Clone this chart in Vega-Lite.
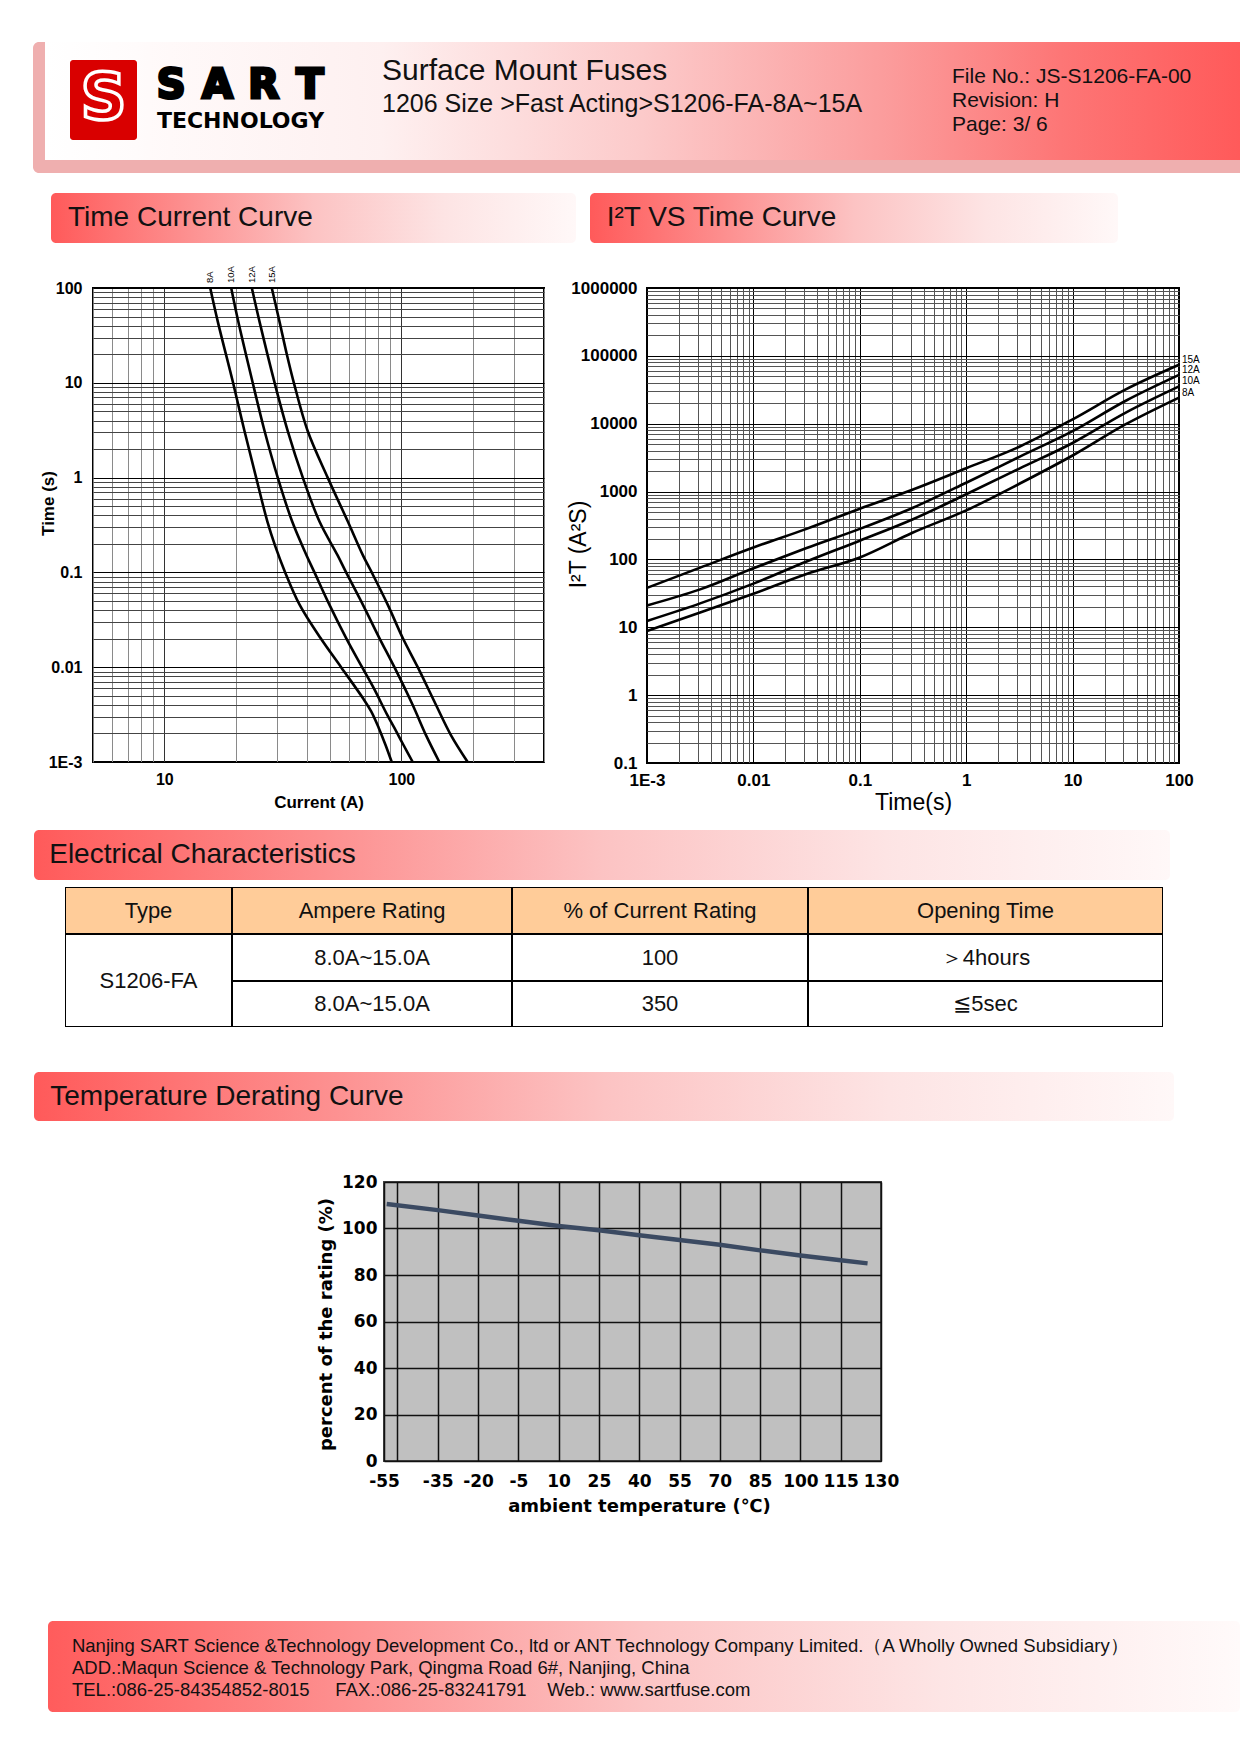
{
  "$schema": "https://vega.github.io/schema/vega-lite/v6.json",
  "padding": 0,
  "background": "#ffffff",
  "spacing": 0,
  "config": {"view": {"stroke": null}, "concat": {"spacing": 0}, "font": "Liberation Sans"},
  "datasets": {
    "one": [{"k": 1}],
    "titleLines": [
      {"block": "title", "line": 1, "text": "Surface Mount Fuses"},
      {"block": "title", "line": 2, "text": "1206 Size >Fast Acting>S1206-FA-8A~15A"}
    ],
    "infoLines": [
      {"block": "info", "line": 1, "text": "File No.: JS-S1206-FA-00"},
      {"block": "info", "line": 2, "text": "Revision: H"},
      {"block": "info", "line": 3, "text": "Page: 3/ 6"}
    ],
    "logoLetters": [
      {"line": "SART", "letter": "S"}, {"line": "SART", "letter": "A"},
      {"line": "SART", "letter": "R"}, {"line": "SART", "letter": "T"}
    ],
    "logoSub": [{"line": "TECHNOLOGY", "text": "TECHNOLOGY"}],
    "footerLines": [
      {"block": "f", "line": 1, "text": "Nanjing SART Science &Technology Development Co., ltd or ANT Technology Company Limited.（A Wholly Owned Subsidiary）"},
      {"block": "f", "line": 2, "text": "ADD.:Maqun Science & Technology Park, Qingma Road 6#, Nanjing, China"},
      {"block": "f", "line": 3, "text": "TEL.:086-25-84354852-8015\u00a0\u00a0\u00a0\u00a0\u00a0FAX.:086-25-83241791\u00a0\u00a0\u00a0\u00a0Web.: www.sartfuse.com"}
    ],
    "tc": [
      {"rating": "8A", "current": 15.62, "time": 100}, {"rating": "8A", "current": 16.8, "time": 44.5},
      {"rating": "8A", "current": 19.5, "time": 10}, {"rating": "8A", "current": 21.8, "time": 3.08},
      {"rating": "8A", "current": 24.4, "time": 1}, {"rating": "8A", "current": 27.2, "time": 0.346},
      {"rating": "8A", "current": 29.4, "time": 0.188}, {"rating": "8A", "current": 32.35, "time": 0.1},
      {"rating": "8A", "current": 37.2, "time": 0.0457}, {"rating": "8A", "current": 45.6, "time": 0.0203},
      {"rating": "8A", "current": 55.7, "time": 0.01}, {"rating": "8A", "current": 68.8, "time": 0.00473},
      {"rating": "8A", "current": 74.6, "time": 0.00342}, {"rating": "8A", "current": 80.3, "time": 0.00229},
      {"rating": "8A", "current": 85.7, "time": 0.00152}, {"rating": "8A", "current": 91.1, "time": 0.001},
      {"rating": "10A", "current": 19.15, "time": 100}, {"rating": "10A", "current": 20.5, "time": 44.5},
      {"rating": "10A", "current": 23.6, "time": 10}, {"rating": "10A", "current": 26.5, "time": 3.08},
      {"rating": "10A", "current": 30.1, "time": 1}, {"rating": "10A", "current": 34.6, "time": 0.346},
      {"rating": "10A", "current": 39.7, "time": 0.1538}, {"rating": "10A", "current": 43.0, "time": 0.1},
      {"rating": "10A", "current": 49.7, "time": 0.0457}, {"rating": "10A", "current": 58.5, "time": 0.0203},
      {"rating": "10A", "current": 68.3, "time": 0.01}, {"rating": "10A", "current": 76.5, "time": 0.006},
      {"rating": "10A", "current": 87.1, "time": 0.00316}, {"rating": "10A", "current": 93.5, "time": 0.00229},
      {"rating": "10A", "current": 102.0, "time": 0.00152}, {"rating": "10A", "current": 111.7, "time": 0.001},
      {"rating": "12A", "current": 23.4, "time": 100}, {"rating": "12A", "current": 25.2, "time": 44.5},
      {"rating": "12A", "current": 29.2, "time": 10}, {"rating": "12A", "current": 33.2, "time": 3.08},
      {"rating": "12A", "current": 38.4, "time": 1}, {"rating": "12A", "current": 45.1, "time": 0.346},
      {"rating": "12A", "current": 53.8, "time": 0.152}, {"rating": "12A", "current": 58.5, "time": 0.1},
      {"rating": "12A", "current": 68.8, "time": 0.0457}, {"rating": "12A", "current": 80.8, "time": 0.0203},
      {"rating": "12A", "current": 93.5, "time": 0.01}, {"rating": "12A", "current": 111.7, "time": 0.00399},
      {"rating": "12A", "current": 127.2, "time": 0.00191}, {"rating": "12A", "current": 144.7, "time": 0.001},
      {"rating": "15A", "current": 28.4, "time": 100}, {"rating": "15A", "current": 30.6, "time": 44.5},
      {"rating": "15A", "current": 32.9, "time": 19.8}, {"rating": "15A", "current": 35.2, "time": 10},
      {"rating": "15A", "current": 40.3, "time": 3.08}, {"rating": "15A", "current": 48.9, "time": 1},
      {"rating": "15A", "current": 59.4, "time": 0.346}, {"rating": "15A", "current": 68.8, "time": 0.152},
      {"rating": "15A", "current": 75.0, "time": 0.1}, {"rating": "15A", "current": 87.6, "time": 0.0457},
      {"rating": "15A", "current": 101.4, "time": 0.0203}, {"rating": "15A", "current": 117.3, "time": 0.01},
      {"rating": "15A", "current": 140.1, "time": 0.00399}, {"rating": "15A", "current": 162.1, "time": 0.00191},
      {"rating": "15A", "current": 190.5, "time": 0.001}
    ],
    "i2t": [
      {"rating": "15A", "time": 0.001, "i2t": 38.1}, {"rating": "15A", "time": 0.00316, "i2t": 75.7},
      {"rating": "15A", "time": 0.01, "i2t": 150}, {"rating": "15A", "time": 0.0316, "i2t": 282},
      {"rating": "15A", "time": 0.1, "i2t": 560}, {"rating": "15A", "time": 0.316, "i2t": 1074},
      {"rating": "15A", "time": 1, "i2t": 2208}, {"rating": "15A", "time": 3.16, "i2t": 4581},
      {"rating": "15A", "time": 10, "i2t": 11590}, {"rating": "15A", "time": 31.6, "i2t": 32000},
      {"rating": "15A", "time": 100, "i2t": 73800},
      {"rating": "12A", "time": 0.001, "i2t": 21.0}, {"rating": "12A", "time": 0.00316, "i2t": 36.2},
      {"rating": "12A", "time": 0.01, "i2t": 74.1}, {"rating": "12A", "time": 0.0316, "i2t": 147},
      {"rating": "12A", "time": 0.1, "i2t": 282}, {"rating": "12A", "time": 0.316, "i2t": 578},
      {"rating": "12A", "time": 1, "i2t": 1349}, {"rating": "12A", "time": 3.16, "i2t": 3250},
      {"rating": "12A", "time": 10, "i2t": 7760}, {"rating": "12A", "time": 31.6, "i2t": 21800},
      {"rating": "12A", "time": 100, "i2t": 52400},
      {"rating": "10A", "time": 0.001, "i2t": 12.4}, {"rating": "10A", "time": 0.00316, "i2t": 22.5},
      {"rating": "10A", "time": 0.01, "i2t": 44.0}, {"rating": "10A", "time": 0.0316, "i2t": 93.1},
      {"rating": "10A", "time": 0.1, "i2t": 189}, {"rating": "10A", "time": 0.316, "i2t": 391},
      {"rating": "10A", "time": 1, "i2t": 914}, {"rating": "10A", "time": 3.16, "i2t": 2180},
      {"rating": "10A", "time": 10, "i2t": 5200}, {"rating": "10A", "time": 31.6, "i2t": 14600},
      {"rating": "10A", "time": 100, "i2t": 35500},
      {"rating": "8A", "time": 0.001, "i2t": 8.8}, {"rating": "8A", "time": 0.00316, "i2t": 16.5},
      {"rating": "8A", "time": 0.01, "i2t": 31.2}, {"rating": "8A", "time": 0.0316, "i2t": 61.0},
      {"rating": "8A", "time": 0.1, "i2t": 107}, {"rating": "8A", "time": 0.316, "i2t": 249},
      {"rating": "8A", "time": 1, "i2t": 528}, {"rating": "8A", "time": 3.16, "i2t": 1303},
      {"rating": "8A", "time": 10, "i2t": 3400}, {"rating": "8A", "time": 31.6, "i2t": 9840},
      {"rating": "8A", "time": 100, "i2t": 24300}
    ],
    "derate": [
      {"temp": -54, "pct": 110.5}, {"temp": -35, "pct": 107.9}, {"temp": -20, "pct": 105.6},
      {"temp": -5, "pct": 103.3}, {"temp": 10, "pct": 101.1}, {"temp": 25, "pct": 99.2},
      {"temp": 40, "pct": 97.1}, {"temp": 55, "pct": 95.1}, {"temp": 70, "pct": 93.0},
      {"temp": 85, "pct": 90.6}, {"temp": 100, "pct": 88.4}, {"temp": 115, "pct": 86.3},
      {"temp": 125, "pct": 85.0}
    ]
  },
  "vconcat": [
    {"width": 1240, "height": 42, "data": {"name": "one"}, "mark": {"type": "rect", "opacity": 0}, "encoding": {}},
    {"spacing": 0, "hconcat": [
      {"width": 33, "height": 131, "data": {"name": "one"}, "mark": {"type": "rect", "opacity": 0}, "encoding": {}},
      {"width": 12, "height": 131, "data": {"name": "one"}, "mark": {"type": "rect", "fill": "#efafaf", "cornerRadiusTopLeft": 10, "cornerRadiusBottomLeft": 10}, "encoding": {}},
      {"spacing": 0, "vconcat": [
        {"spacing": 0, "hconcat": [
          {"width": 25, "height": 118, "data": {"name": "one"}, "mark": {"type": "rect", "fill": {"gradient": "linear", "x1": 0, "y1": 0, "x2": 1, "y2": 0, "stops": [{"offset": 0, "color": "#ffffff"}, {"offset": 1, "color": "#fffefe"}]}}, "encoding": {}},
          {"spacing": 0, "vconcat": [
            {"width": 67, "height": 18, "data": {"name": "one"}, "mark": {"type": "rect", "fill": {"gradient": "linear", "x1": 0, "y1": 0, "x2": 1, "y2": 0, "stops": [{"offset": 0, "color": "#fffefe"}, {"offset": 1, "color": "#fffbfb"}]}}, "encoding": {}},
            {"width": 67, "height": 80, "data": {"values": [{"glyph": "S"}]}, "layer": [
              {"mark": {"type": "rect", "fill": "#d90000", "cornerRadius": 3}, "encoding": {}},
              {"mark": {"type": "text", "font": "DejaVu Sans", "fontWeight": "bold", "fontSize": 64, "fill": "transparent", "stroke": "#ffffff", "strokeWidth": 3.5, "baseline": "middle"}, "encoding": {"text": {"field": "glyph"}}}
            ]},
            {"width": 67, "height": 20, "data": {"name": "one"}, "mark": {"type": "rect", "fill": {"gradient": "linear", "x1": 0, "y1": 0, "x2": 1, "y2": 0, "stops": [{"offset": 0, "color": "#fffefe"}, {"offset": 1, "color": "#fffbfb"}]}}, "encoding": {}}
          ]},
          {"width": 11, "height": 118, "data": {"name": "one"}, "mark": {"type": "rect", "fill": {"gradient": "linear", "x1": 0, "y1": 0, "x2": 1, "y2": 0, "stops": [{"offset": 0, "color": "#fffbfb"}, {"offset": 1, "color": "#fffafa"}]}}, "encoding": {}},
          {"width": 185, "height": 118, "layer": [
            {"data": {"name": "one"}, "mark": {"type": "rect", "fill": {"gradient": "linear", "x1": 0, "y1": 0, "x2": 1, "y2": 0, "stops": [{"offset": 0, "color": "#fffafa"}, {"offset": 1, "color": "#fef2f2"}]}}, "encoding": {}},
            {"data": {"name": "logoLetters"}, "mark": {"type": "text", "font": "DejaVu Sans", "fontWeight": "bold", "fontSize": 40, "color": "#000000", "stroke": "#000000", "strokeWidth": 3, "baseline": "middle"},
             "encoding": {
               "x": {"field": "letter", "type": "nominal", "scale": {"type": "band", "domain": ["S", "A", "R", "T"], "paddingInner": 0, "paddingOuter": 0}, "axis": null},
               "y": {"field": "line", "type": "nominal", "scale": {"type": "band", "domain": ["SART", "TECHNOLOGY"], "paddingInner": 0, "paddingOuter": 0.648, "align": 0.554}, "axis": null},
               "text": {"field": "letter"}}},
            {"data": {"name": "logoSub"}, "mark": {"type": "text", "font": "DejaVu Sans", "fontWeight": "bold", "fontSize": 22, "color": "#000000", "baseline": "middle"},
             "encoding": {
               "y": {"field": "line", "type": "nominal", "scale": {"type": "band", "domain": ["SART", "TECHNOLOGY"], "paddingInner": 0, "paddingOuter": 0.648, "align": 0.554}, "axis": null},
               "text": {"field": "text"}}}
          ]},
          {"width": 49, "height": 118, "data": {"name": "one"}, "mark": {"type": "rect", "fill": {"gradient": "linear", "x1": 0, "y1": 0, "x2": 1, "y2": 0, "stops": [{"offset": 0, "color": "#fef2f2"}, {"offset": 1, "color": "#fef0f0"}]}}, "encoding": {}},
          {"width": 570, "height": 118, "layer": [
            {"data": {"name": "one"}, "mark": {"type": "rect", "fill": {"gradient": "linear", "x1": 0, "y1": 0, "x2": 1, "y2": 0, "stops": [{"offset": 0, "color": "#fef0f0"}, {"offset": 0.457, "color": "#fccaca"}, {"offset": 0.876, "color": "#fb9d9d"}, {"offset": 1, "color": "#fc8e8e"}]}}, "encoding": {}},
            {"data": {"name": "titleLines"}, "transform": [{"filter": "datum.line == 1"}],
             "mark": {"type": "text", "align": "left", "baseline": "alphabetic", "fontSize": 30, "color": "#111111"},
             "encoding": {
               "x": {"field": "block", "type": "nominal", "scale": {"type": "band", "paddingInner": 0, "paddingOuter": 0}, "axis": null, "bandPosition": 0},
               "y": {"field": "line", "type": "ordinal", "scale": {"type": "band", "domain": [1, 2], "paddingInner": 0, "paddingOuter": 0.861, "align": 0.406}, "axis": null},
               "text": {"field": "text"}}},
            {"data": {"name": "titleLines"}, "transform": [{"filter": "datum.line == 2"}],
             "mark": {"type": "text", "align": "left", "baseline": "alphabetic", "fontSize": 25, "color": "#111111"},
             "encoding": {
               "x": {"field": "block", "type": "nominal", "scale": {"type": "band", "paddingInner": 0, "paddingOuter": 0}, "axis": null, "bandPosition": 0},
               "y": {"field": "line", "type": "ordinal", "scale": {"type": "band", "domain": [1, 2], "paddingInner": 0, "paddingOuter": 0.861, "align": 0.406}, "axis": null},
               "text": {"field": "text"}}}
          ]},
          {"width": 288, "height": 118, "layer": [
            {"data": {"name": "one"}, "mark": {"type": "rect", "fill": {"gradient": "linear", "x1": 0, "y1": 0, "x2": 1, "y2": 0, "stops": [{"offset": 0, "color": "#fc8e8e"}, {"offset": 0.378, "color": "#fd7676"}, {"offset": 1, "color": "#ff5a5a"}]}}, "encoding": {}},
            {"data": {"name": "infoLines"},
             "mark": {"type": "text", "align": "left", "baseline": "alphabetic", "fontSize": 21, "color": "#111111"},
             "encoding": {
               "x": {"field": "block", "type": "nominal", "scale": {"type": "band", "paddingInner": 0, "paddingOuter": 0}, "axis": null, "bandPosition": 0},
               "y": {"field": "line", "type": "ordinal", "scale": {"type": "band", "domain": [1, 2, 3], "paddingInner": 0, "paddingOuter": 0.958, "align": 0.641}, "axis": null},
               "text": {"field": "text"}}}
          ]}
        ]},
        {"width": 1195, "height": 13, "data": {"name": "one"}, "mark": {"type": "rect", "fill": "#efafaf"}, "encoding": {}}
      ]}
    ]},
    {"width": 1240, "height": 20, "data": {"name": "one"}, "mark": {"type": "rect", "opacity": 0}, "encoding": {}},
    {"spacing": 0, "hconcat": [
      {"width": 51, "height": 50, "data": {"name": "one"}, "mark": {"type": "rect", "opacity": 0}, "encoding": {}},
      {"width": 525, "height": 50, "data": {"values": [{"block": "s", "text": "Time Current Curve"}]}, "layer": [
        {"mark": {"type": "rect", "cornerRadius": 5, "fill": {"gradient": "linear", "x1": 0, "y1": 0, "x2": 1, "y2": 0, "stops": [{"offset": 0, "color": "#ff5a5a"}, {"offset": 0.25, "color": "#fd8e8e"}, {"offset": 0.5, "color": "#fcc3c3"}, {"offset": 0.75, "color": "#fde4e4"}, {"offset": 1, "color": "#fff8f8"}]}}, "encoding": {}},
        {"mark": {"type": "text", "align": "left", "baseline": "middle", "fontSize": 28, "color": "#111111"},
         "encoding": {"x": {"field": "block", "type": "nominal", "scale": {"type": "band", "paddingInner": 0, "paddingOuter": 0}, "axis": null, "bandPosition": 0.0324}, "text": {"field": "text"}}}
      ]},
      {"width": 14, "height": 50, "data": {"name": "one"}, "mark": {"type": "rect", "opacity": 0}, "encoding": {}},
      {"width": 528, "height": 50, "data": {"values": [{"block": "s", "text": "I²T VS Time Curve"}]}, "layer": [
        {"mark": {"type": "rect", "cornerRadius": 5, "fill": {"gradient": "linear", "x1": 0, "y1": 0, "x2": 1, "y2": 0, "stops": [{"offset": 0, "color": "#ff5a5a"}, {"offset": 0.25, "color": "#fd8e8e"}, {"offset": 0.5, "color": "#fcc3c3"}, {"offset": 0.75, "color": "#fde4e4"}, {"offset": 1, "color": "#fff8f8"}]}}, "encoding": {}},
        {"mark": {"type": "text", "align": "left", "baseline": "middle", "fontSize": 28, "color": "#111111"},
         "encoding": {"x": {"field": "block", "type": "nominal", "scale": {"type": "band", "paddingInner": 0, "paddingOuter": 0}, "axis": null, "bandPosition": 0.0316}, "text": {"field": "text"}}}
      ]}
    ]},
    {"width": 1240, "height": 22, "data": {"name": "one"}, "mark": {"type": "rect", "opacity": 0}, "encoding": {}},
    {"spacing": 0, "hconcat": [
      {"width": 38, "height": 542, "data": {"name": "one"}, "mark": {"type": "rect", "opacity": 0}, "encoding": {}},
      {"width": 451, "height": 474, "view": {"stroke": "#000000", "strokeWidth": 2}, "data": {"name": "tc"}, "layer": [
        {"mark": {"type": "line", "color": "#000000", "strokeWidth": 2.6, "interpolate": "catmull-rom"},
         "encoding": {
           "x": {"field": "current", "type": "quantitative", "scale": {"type": "log", "domain": [5, 400], "nice": false},
             "axis": {"values": [5, 6, 7, 8, 9, 10, 20, 30, 40, 50, 60, 70, 80, 90, 100, 200, 300, 400],
               "labelExpr": "datum.value == 10 ? '10' : datum.value == 100 ? '100' : ''",
               "grid": true, "gridColor": {"condition": {"test": "datum.value == 10 || datum.value == 100", "value": "#333333"}, "value": "#8a8a8a"}, "gridWidth": 1,
               "ticks": false, "domain": false, "labelFont": "Liberation Sans", "labelFontSize": 16, "labelFontWeight": "bold", "labelColor": "#000000",
               "labelPadding": 9, "labelOverlap": false, "labelFlush": false,
               "title": "Current (A)", "titleFont": "Liberation Sans", "titleFontSize": 17, "titleFontWeight": "bold", "titleColor": "#000000", "titleY": 40, "titleBaseline": "middle"}},
           "y": {"field": "time", "type": "quantitative", "scale": {"type": "log", "domain": [0.001, 100], "nice": false},
             "axis": {"values": [0.001, 0.002, 0.003, 0.004, 0.005, 0.006, 0.007, 0.008, 0.009, 0.01, 0.02, 0.03, 0.04, 0.05, 0.06, 0.07, 0.08, 0.09, 0.1, 0.2, 0.3, 0.4, 0.5, 0.6, 0.7, 0.8, 0.9, 1, 2, 3, 4, 5, 6, 7, 8, 9, 10, 20, 30, 40, 50, 60, 70, 80, 90, 100],
               "labelExpr": "datum.value == 0.001 ? '1E-3' : datum.value == 0.01 ? '0.01' : datum.value == 0.1 ? '0.1' : datum.value == 1 ? '1' : datum.value == 10 ? '10' : datum.value == 100 ? '100' : ''",
               "grid": true, "gridColor": {"condition": {"test": "indexof([0.001, 0.01, 0.1, 1, 10, 100], datum.value) >= 0", "value": "#000000"}, "value": "#444444"}, "gridWidth": 1,
               "ticks": false, "domain": false, "labelFont": "Liberation Sans", "labelFontSize": 16, "labelFontWeight": "bold", "labelColor": "#000000",
               "labelPadding": 11, "labelOverlap": false, "labelFlush": false,
               "title": "Time (s)", "titleFont": "Liberation Sans", "titleFontSize": 17, "titleFontWeight": "bold", "titleColor": "#000000",
               "titleX": -45, "titleY": 215, "titleBaseline": "middle", "titleAlign": "center", "titleAngle": 270}},
           "detail": {"field": "rating", "type": "nominal"}}},
        {"transform": [{"filter": "datum.time == 100"}],
         "mark": {"type": "text", "angle": 270, "align": "left", "baseline": "middle", "dx": 5, "fontSize": 9.5, "color": "#000000"},
         "encoding": {"x": {"field": "current", "type": "quantitative"}, "y": {"field": "time", "type": "quantitative"}, "text": {"field": "rating", "type": "nominal"}}}
      ]},
      {"width": 21, "height": 10, "data": {"name": "one"}, "mark": {"type": "rect", "opacity": 0}, "encoding": {}},
      {"width": 532, "height": 475, "view": {"stroke": "#000000", "strokeWidth": 2}, "data": {"name": "i2t"}, "layer": [
        {"mark": {"type": "line", "color": "#000000", "strokeWidth": 2.6, "interpolate": "catmull-rom"},
         "encoding": {
           "x": {"field": "time", "type": "quantitative", "scale": {"type": "log", "domain": [0.001, 100], "nice": false},
             "axis": {"values": [0.001, 0.002, 0.003, 0.004, 0.005, 0.006, 0.007, 0.008, 0.009, 0.01, 0.02, 0.03, 0.04, 0.05, 0.06, 0.07, 0.08, 0.09, 0.1, 0.2, 0.3, 0.4, 0.5, 0.6, 0.7, 0.8, 0.9, 1, 2, 3, 4, 5, 6, 7, 8, 9, 10, 20, 30, 40, 50, 60, 70, 80, 90, 100],
               "labelExpr": "datum.value == 0.001 ? '1E-3' : datum.value == 0.01 ? '0.01' : datum.value == 0.1 ? '0.1' : datum.value == 1 ? '1' : datum.value == 10 ? '10' : datum.value == 100 ? '100' : ''",
               "grid": true, "gridColor": {"condition": {"test": "indexof([0.001, 0.01, 0.1, 1, 10, 100], datum.value) >= 0", "value": "#000000"}, "value": "#555555"}, "gridWidth": 1,
               "ticks": false, "domain": false, "labelFont": "Liberation Sans", "labelFontSize": 17, "labelFontWeight": "bold", "labelColor": "#000000",
               "labelPadding": 9, "labelOverlap": false, "labelFlush": false,
               "title": "Time(s)", "titleFont": "Liberation Sans", "titleFontSize": 23, "titleFontWeight": "normal", "titleColor": "#000000", "titleY": 39, "titleBaseline": "middle"}},
           "y": {"field": "i2t", "type": "quantitative", "scale": {"type": "log", "domain": [0.1, 1000000], "nice": false},
             "axis": {"values": [0.1, 0.2, 0.3, 0.4, 0.5, 0.6, 0.7, 0.8, 0.9, 1, 2, 3, 4, 5, 6, 7, 8, 9, 10, 20, 30, 40, 50, 60, 70, 80, 90, 100, 200, 300, 400, 500, 600, 700, 800, 900, 1000, 2000, 3000, 4000, 5000, 6000, 7000, 8000, 9000, 10000, 20000, 30000, 40000, 50000, 60000, 70000, 80000, 90000, 100000, 200000, 300000, 400000, 500000, 600000, 700000, 800000, 900000, 1000000],
               "labelExpr": "datum.value == 0.1 ? '0.1' : datum.value == 1 ? '1' : datum.value == 10 ? '10' : datum.value == 100 ? '100' : datum.value == 1000 ? '1000' : datum.value == 10000 ? '10000' : datum.value == 100000 ? '100000' : datum.value == 1000000 ? '1000000' : ''",
               "grid": true, "gridColor": {"condition": {"test": "indexof([0.1, 1, 10, 100, 1000, 10000, 100000, 1000000], datum.value) >= 0", "value": "#000000"}, "value": "#555555"}, "gridWidth": 1,
               "ticks": false, "domain": false, "labelFont": "Liberation Sans", "labelFontSize": 17, "labelFontWeight": "bold", "labelColor": "#000000",
               "labelPadding": 10, "labelOverlap": false, "labelFlush": false,
               "title": "I²T (A²S)", "titleFont": "Liberation Sans", "titleFontSize": 23, "titleFontWeight": "normal", "titleColor": "#000000",
               "titleX": -69, "titleY": 256, "titleBaseline": "middle", "titleAlign": "center", "titleAngle": 270}},
           "detail": {"field": "rating", "type": "nominal"}}},
        {"transform": [{"filter": "datum.time == 100"}],
         "mark": {"type": "text", "align": "left", "baseline": "bottom", "dx": 3, "fontSize": 10, "color": "#000000"},
         "encoding": {"x": {"field": "time", "type": "quantitative"}, "y": {"field": "i2t", "type": "quantitative"}, "text": {"field": "rating", "type": "nominal"}}}
      ]}
    ]},
    {"spacing": 0, "hconcat": [
      {"width": 34, "height": 50, "data": {"name": "one"}, "mark": {"type": "rect", "opacity": 0}, "encoding": {}},
      {"width": 1136, "height": 50, "data": {"values": [{"block": "s", "text": "Electrical Characteristics"}]}, "layer": [
        {"mark": {"type": "rect", "cornerRadius": 5, "fill": {"gradient": "linear", "x1": 0, "y1": 0, "x2": 1, "y2": 0, "stops": [{"offset": 0, "color": "#ff5a5a"}, {"offset": 0.25, "color": "#fd8e8e"}, {"offset": 0.5, "color": "#fcc3c3"}, {"offset": 0.75, "color": "#fde4e4"}, {"offset": 1, "color": "#fff8f8"}]}}, "encoding": {}},
        {"mark": {"type": "text", "align": "left", "baseline": "middle", "fontSize": 28, "color": "#111111"},
         "encoding": {"x": {"field": "block", "type": "nominal", "scale": {"type": "band", "paddingInner": 0, "paddingOuter": 0}, "axis": null, "bandPosition": 0.0134}, "text": {"field": "text"}}}
      ]}
    ]},
    {"width": 1240, "height": 7, "data": {"name": "one"}, "mark": {"type": "rect", "opacity": 0}, "encoding": {}},
    {"spacing": 0, "hconcat": [
      {"width": 65, "height": 140, "data": {"name": "one"}, "mark": {"type": "rect", "opacity": 0}, "encoding": {}},
      {"spacing": 0, "vconcat": [
        {"width": 167, "height": 47, "data": {"values": [{"text": "Type"}]}, "layer": [
          {"mark": {"type": "rect", "fill": "#ffcc99", "stroke": "#000000", "strokeWidth": 2, "clip": true}, "encoding": {}},
          {"mark": {"type": "text", "fontSize": 22, "color": "#111111"}, "encoding": {"text": {"field": "text"}}}]},
        {"width": 167, "height": 93, "data": {"values": [{"text": "S1206-FA"}]}, "layer": [
          {"mark": {"type": "rect", "fill": "#ffffff", "stroke": "#000000", "strokeWidth": 2, "clip": true}, "encoding": {}},
          {"mark": {"type": "text", "fontSize": 22, "color": "#111111"}, "encoding": {"text": {"field": "text"}}}]}
      ]},
      {"spacing": 0, "vconcat": [
        {"width": 280, "height": 47, "data": {"values": [{"text": "Ampere Rating"}]}, "layer": [
          {"mark": {"type": "rect", "fill": "#ffcc99", "stroke": "#000000", "strokeWidth": 2, "clip": true}, "encoding": {}},
          {"mark": {"type": "text", "fontSize": 22, "color": "#111111"}, "encoding": {"text": {"field": "text"}}}]},
        {"width": 280, "height": 47, "data": {"values": [{"text": "8.0A~15.0A"}]}, "layer": [
          {"mark": {"type": "rect", "fill": "#ffffff", "stroke": "#000000", "strokeWidth": 2, "clip": true}, "encoding": {}},
          {"mark": {"type": "text", "fontSize": 22, "color": "#111111"}, "encoding": {"text": {"field": "text"}}}]},
        {"width": 280, "height": 46, "data": {"values": [{"text": "8.0A~15.0A"}]}, "layer": [
          {"mark": {"type": "rect", "fill": "#ffffff", "stroke": "#000000", "strokeWidth": 2, "clip": true}, "encoding": {}},
          {"mark": {"type": "text", "fontSize": 22, "color": "#111111"}, "encoding": {"text": {"field": "text"}}}]}
      ]},
      {"spacing": 0, "vconcat": [
        {"width": 296, "height": 47, "data": {"values": [{"text": "% of Current Rating"}]}, "layer": [
          {"mark": {"type": "rect", "fill": "#ffcc99", "stroke": "#000000", "strokeWidth": 2, "clip": true}, "encoding": {}},
          {"mark": {"type": "text", "fontSize": 22, "color": "#111111"}, "encoding": {"text": {"field": "text"}}}]},
        {"width": 296, "height": 47, "data": {"values": [{"text": "100"}]}, "layer": [
          {"mark": {"type": "rect", "fill": "#ffffff", "stroke": "#000000", "strokeWidth": 2, "clip": true}, "encoding": {}},
          {"mark": {"type": "text", "fontSize": 22, "color": "#111111"}, "encoding": {"text": {"field": "text"}}}]},
        {"width": 296, "height": 46, "data": {"values": [{"text": "350"}]}, "layer": [
          {"mark": {"type": "rect", "fill": "#ffffff", "stroke": "#000000", "strokeWidth": 2, "clip": true}, "encoding": {}},
          {"mark": {"type": "text", "fontSize": 22, "color": "#111111"}, "encoding": {"text": {"field": "text"}}}]}
      ]},
      {"spacing": 0, "vconcat": [
        {"width": 355, "height": 47, "data": {"values": [{"text": "Opening Time"}]}, "layer": [
          {"mark": {"type": "rect", "fill": "#ffcc99", "stroke": "#000000", "strokeWidth": 2, "clip": true}, "encoding": {}},
          {"mark": {"type": "text", "fontSize": 22, "color": "#111111"}, "encoding": {"text": {"field": "text"}}}]},
        {"width": 355, "height": 47, "data": {"values": [{"text": "＞4hours"}]}, "layer": [
          {"mark": {"type": "rect", "fill": "#ffffff", "stroke": "#000000", "strokeWidth": 2, "clip": true}, "encoding": {}},
          {"mark": {"type": "text", "fontSize": 22, "color": "#111111"}, "encoding": {"text": {"field": "text"}}}]},
        {"width": 355, "height": 46, "data": {"values": [{"text": "≦5sec"}]}, "layer": [
          {"mark": {"type": "rect", "fill": "#ffffff", "stroke": "#000000", "strokeWidth": 2, "clip": true}, "encoding": {}},
          {"mark": {"type": "text", "fontSize": 22, "color": "#111111"}, "encoding": {"text": {"field": "text"}}}]}
      ]}
    ]},
    {"width": 1240, "height": 45, "data": {"name": "one"}, "mark": {"type": "rect", "opacity": 0}, "encoding": {}},
    {"spacing": 0, "hconcat": [
      {"width": 34, "height": 49, "data": {"name": "one"}, "mark": {"type": "rect", "opacity": 0}, "encoding": {}},
      {"width": 1140, "height": 49, "data": {"values": [{"block": "s", "text": "Temperature Derating Curve"}]}, "layer": [
        {"mark": {"type": "rect", "cornerRadius": 5, "fill": {"gradient": "linear", "x1": 0, "y1": 0, "x2": 1, "y2": 0, "stops": [{"offset": 0, "color": "#ff5a5a"}, {"offset": 0.25, "color": "#fd8e8e"}, {"offset": 0.5, "color": "#fcc3c3"}, {"offset": 0.75, "color": "#fde4e4"}, {"offset": 1, "color": "#fff8f8"}]}}, "encoding": {}},
        {"mark": {"type": "text", "align": "left", "baseline": "middle", "fontSize": 28, "color": "#111111"},
         "encoding": {"x": {"field": "block", "type": "nominal", "scale": {"type": "band", "paddingInner": 0, "paddingOuter": 0}, "axis": null, "bandPosition": 0.0143}, "text": {"field": "text"}}}
      ]}
    ]},
    {"width": 1240, "height": 51, "data": {"name": "one"}, "mark": {"type": "rect", "opacity": 0}, "encoding": {}},
    {"spacing": 0, "hconcat": [
      {"width": 316, "height": 439, "data": {"name": "one"}, "mark": {"type": "rect", "opacity": 0}, "encoding": {}},
      {"width": 497, "height": 279, "view": {"fill": "#c0c0c0", "stroke": "#444444", "strokeWidth": 2}, "data": {"name": "derate"},
       "mark": {"type": "line", "color": "#3b4a62", "strokeWidth": 4.5},
       "encoding": {
         "x": {"field": "temp", "type": "quantitative", "scale": {"domain": [-55, 130], "nice": false, "zero": false},
           "axis": {"values": [-55, -50, -35, -20, -5, 10, 25, 40, 55, 70, 85, 100, 115, 130],
             "labelExpr": "datum.value == -50 ? '' : '' + datum.value",
             "grid": true, "gridColor": "#111111", "gridWidth": 1.5, "ticks": false, "domain": false,
             "labelFont": "DejaVu Sans", "labelFontSize": 17, "labelFontWeight": "bold", "labelColor": "#000000", "labelPadding": 12, "labelOverlap": false, "labelFlush": false,
             "title": "ambient temperature (℃)", "titleFont": "DejaVu Sans", "titleFontSize": 18, "titleFontWeight": "bold", "titleColor": "#000000",
             "titleY": 45, "titleX": 255, "titleAlign": "center", "titleBaseline": "middle"}},
         "y": {"field": "pct", "type": "quantitative", "scale": {"domain": [0, 120], "nice": false},
           "axis": {"values": [0, 20, 40, 60, 80, 100, 120],
             "grid": true, "gridColor": "#111111", "gridWidth": 1.5, "ticks": false, "domain": false,
             "labelFont": "DejaVu Sans", "labelFontSize": 17, "labelFontWeight": "bold", "labelColor": "#000000", "labelPadding": 7, "labelOverlap": false, "labelFlush": false,
             "title": "percent of the rating (%)", "titleFont": "DejaVu Sans", "titleFontSize": 18, "titleFontWeight": "bold", "titleColor": "#000000",
             "titleX": -58, "titleY": 142, "titleAlign": "center", "titleBaseline": "middle", "titleAngle": 270}}}}
    ]},
    {"spacing": 0, "hconcat": [
      {"width": 48, "height": 91, "data": {"name": "one"}, "mark": {"type": "rect", "opacity": 0}, "encoding": {}},
      {"width": 1192, "height": 91, "layer": [
        {"data": {"name": "one"}, "mark": {"type": "rect", "cornerRadius": 5, "fill": {"gradient": "linear", "x1": 0, "y1": 0, "x2": 1, "y2": 0, "stops": [{"offset": 0, "color": "#ff5c5c"}, {"offset": 0.25, "color": "#fd9090"}, {"offset": 0.5, "color": "#fcc4c4"}, {"offset": 0.75, "color": "#fde5e5"}, {"offset": 1, "color": "#fffafa"}]}}, "encoding": {}},
        {"data": {"name": "footerLines"},
         "mark": {"type": "text", "align": "left", "baseline": "middle", "fontSize": 18.5, "color": "#111111"},
         "encoding": {
           "x": {"field": "block", "type": "nominal", "scale": {"type": "band", "paddingInner": 0, "paddingOuter": 0}, "axis": null, "bandPosition": 0.0201},
           "y": {"field": "line", "type": "ordinal", "scale": {"type": "band", "domain": [1, 2, 3], "paddingInner": 0, "paddingOuter": 0.568, "align": 0.56}, "axis": null},
           "text": {"field": "text"}}}
      ]}
    ]},
    {"width": 1240, "height": 46, "data": {"name": "one"}, "mark": {"type": "rect", "opacity": 0}, "encoding": {}}
  ]
}
